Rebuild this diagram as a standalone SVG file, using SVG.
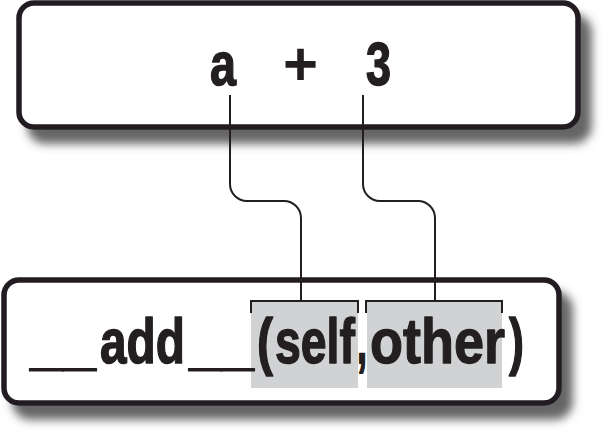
<svg xmlns="http://www.w3.org/2000/svg" width="608" height="435" viewBox="0 0 608 435">
<defs>
<filter id="shadow" x="-10%" y="-20%" width="130%" height="160%">
<feGaussianBlur in="SourceAlpha" stdDeviation="5" result="b"/>
<feOffset in="b" dx="11" dy="14" result="o"/>
<feFlood flood-color="#4a4a4a" flood-opacity="0.85"/>
<feComposite in2="o" operator="in" result="s"/>
<feMerge><feMergeNode in="s"/><feMergeNode in="SourceGraphic"/></feMerge>
</filter>
</defs>
<style>
.box{fill:#ffffff;stroke:#231f20;stroke-width:5.5;filter:url(#shadow)}
.t{font-family:"Liberation Sans",Arial,sans-serif;font-weight:bold;fill:#231f20;stroke:#231f20;stroke-width:1.1;stroke-linejoin:round}
.op{font-family:"Liberation Sans",Arial,sans-serif;font-weight:bold;fill:#231f20}
.hl{fill:#d1d2d4}
.ln{fill:none;stroke:#231f20;stroke-width:2}
</style>
<rect width="608" height="435" fill="#ffffff"/>
<g id="expr">
<rect class="box" x="19" y="3" width="559" height="124" rx="15"/>
<text class="t" font-size="46.8" transform="translate(210,85) scale(1,1.30)">a</text>
<text class="op" font-size="60" transform="translate(283,85) scale(1,1.02)">+</text>
<text class="t" font-size="45" transform="translate(366,85) scale(1,1.356)">3</text>
</g>
<g id="method">
<rect class="box" x="4" y="280" width="555" height="123" rx="15"/>
<rect class="hl" x="251" y="301" width="107" height="87"/>
<rect class="hl" x="367" y="301" width="135" height="87"/>
<text class="t" font-size="59.4" transform="translate(30,363) scale(1,1.061)">__</text>
<text class="t" font-size="47.8" transform="translate(100,363) scale(1,1.318)">add</text>
<text class="t" font-size="58.5" transform="translate(189,363) scale(1,1.077)">__</text>
<text class="t" font-size="48" transform="translate(257,363) scale(1,1.31)">(</text>
<text class="t" font-size="46.4" transform="translate(275,363) scale(1,1.357)">self</text>
<text class="t" font-size="36" transform="translate(357,363) scale(1,1.75)">,</text>
<text class="t" font-size="54" transform="translate(370,363) scale(1,1.167)">other</text>
<text class="t" font-size="45" transform="translate(509,363) scale(1,1.4)">)</text>
</g>
<g id="connectors">
<path class="ln" d="M230,95 V184 A17,17 0 0 0 247,201 H284 A17,17 0 0 1 301,218 V301"/>
<path class="ln" d="M363,95 V184 A17,17 0 0 0 380,201 H418 A17,17 0 0 1 435,218 V301"/>
<path class="ln" d="M251,313 V301 H358 V313"/>
<path class="ln" d="M366,313 V301 H502 V313"/>
</g>
</svg>
